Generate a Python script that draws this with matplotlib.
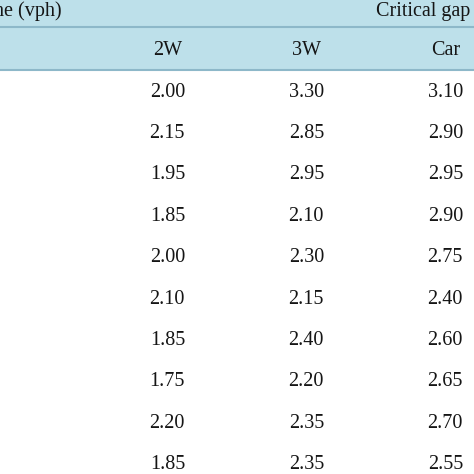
import matplotlib
matplotlib.use("Agg")
import matplotlib.pyplot as plt

columns = ["2W", "3W", "Car"]
w2 = ["2.00", "2.15", "1.95", "1.85", "2.00", "2.10", "1.85", "1.75", "2.20", "1.85"]
w3 = ["3.30", "2.85", "2.95", "2.10", "2.30", "2.15", "2.40", "2.20", "2.35", "2.35"]
car = ["3.10", "2.90", "2.95", "2.90", "2.75", "2.40", "2.60", "2.65", "2.70", "2.55"]

W = H = 474
fig = plt.figure(figsize=(4.74, 4.74), dpi=100)
ax = fig.add_axes([0, 0, 1, 1])
ax.set_xlim(0, W); ax.set_ylim(H, 0); ax.axis("off")

blue = "#bde0ea"; line = "#8db8c9"
ax.add_patch(plt.Rectangle((0, 0), W, 70, color=blue, lw=0))
ax.plot([0, W], [27, 27], color=line, lw=1.5)
ax.plot([0, W], [70, 70], color=line, lw=1.5)

fs = 14.5
font = dict(family="Liberation Serif", fontsize=fs, color="#151515")
ax.text(-6, 11, "ne (vph)", ha="left", va="center", **font)
ax.text(470, 11, "Critical gap", ha="right", va="center", **font)
for x, c in zip([168, 307, 446], columns):
    ax.text(x, 50, c, ha="center", va="center", **font)

y0, dy = 92, 41.4
for i in range(len(w2)):
    y = y0 + i * dy
    for x, col in zip([185, 324, 463], [w2, w3, car]):
        ax.text(x, y, col[i], ha="right", va="center", **font)

fig.savefig("out.png", dpi=100)
